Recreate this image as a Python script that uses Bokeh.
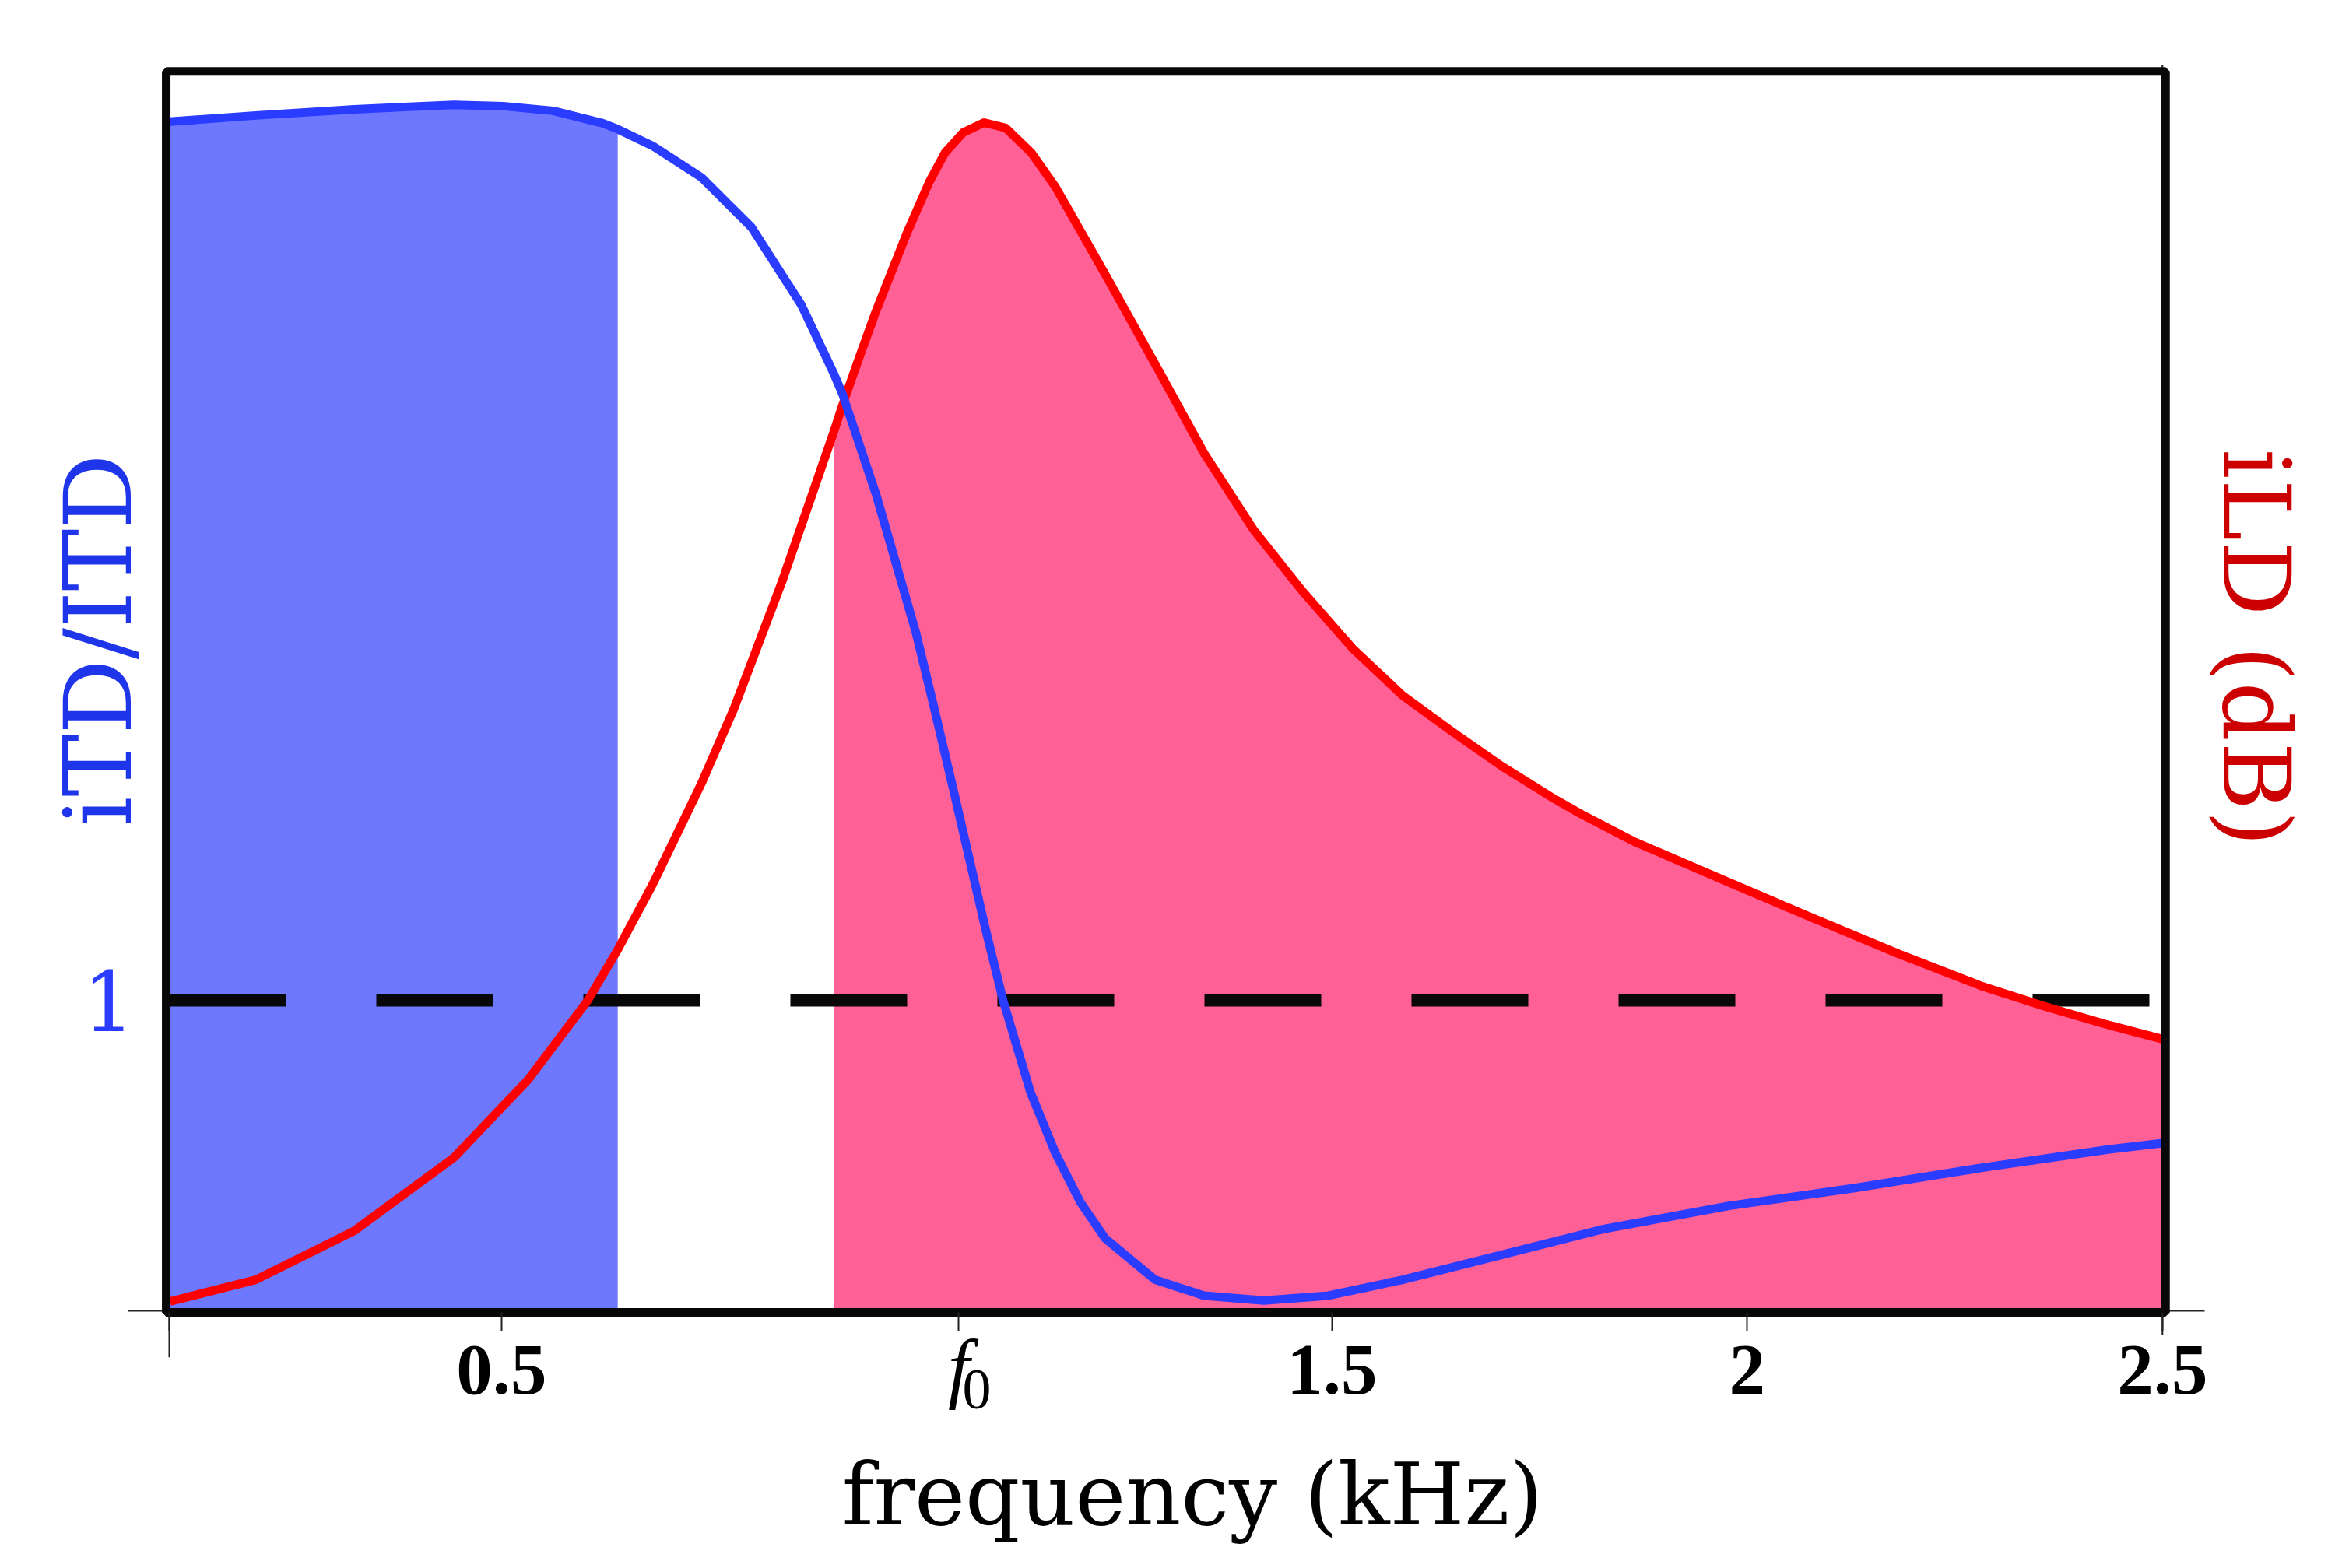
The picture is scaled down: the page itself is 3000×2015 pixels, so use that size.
import numpy as np
from bokeh.plotting import figure
from bokeh.models import Range1d, FixedTicker, Label
from bokeh.embed import file_html
from bokeh.resources import INLINE

# ---- data ----
freq_itd = [0.101, 0.204, 0.323, 0.443, 0.502, 0.562, 0.622, 0.640, 0.682, 0.741, 0.801,
            0.861, 0.900, 0.911, 0.951, 0.999, 1.019, 1.048, 1.083, 1.104, 1.137, 1.167,
            1.197, 1.227, 1.287, 1.346, 1.418, 1.496, 1.585, 1.704, 1.825, 1.978, 2.131,
            2.283, 2.436, 2.500]
itd_ratio = [3.83, 3.85, 3.87, 3.884, 3.88, 3.865, 3.825, 3.806, 3.752, 3.650, 3.49,
             3.24, 3.02, 2.95, 2.63, 2.185, 1.965, 1.634, 1.228, 1.0, 0.704, 0.508,
             0.35, 0.233, 0.10, 0.049, 0.033, 0.049, 0.10, 0.18, 0.262, 0.338, 0.396,
             0.461, 0.52, 0.54]

freq_ild = [0.101, 0.204, 0.323, 0.443, 0.532, 0.604, 0.640, 0.682, 0.741, 0.780, 0.838,
            0.900, 0.911, 0.928, 0.951, 0.988, 1.015, 1.034, 1.056, 1.081, 1.107, 1.138,
            1.167, 1.227, 1.287, 1.346, 1.406, 1.465, 1.525, 1.585, 1.645, 1.704, 1.764,
            1.800, 1.865, 1.978, 2.079, 2.182, 2.283, 2.359, 2.436, 2.500]
ild_db = [0.03, 0.10, 0.258, 0.494, 0.744, 1.0, 1.163, 1.373, 1.70, 1.94, 2.35,
          2.83, 2.92, 3.05, 3.22, 3.47, 3.635, 3.73, 3.795, 3.827, 3.81, 3.73,
          3.62, 3.338, 3.05, 2.762, 2.514, 2.316, 2.133, 1.982, 1.865, 1.755, 1.655,
          1.60, 1.51, 1.38, 1.265, 1.15, 1.045, 0.98, 0.92, 0.875]

itd_fill_end = 0.64
ild_fill_start = 0.90
reference_level = 1.0
x_start, x_end = 0.1, 2.5
f0 = 1.05
tick_values = [0.1, 0.5, f0, 1.5, 2.0, 2.5]
tick_labels = {0.1: "", 0.5: "0.5", f0: "", 1.5: "1.5", 2.0: "2", 2.5: "2.5"}

BLUE_LINE = "#2a3cff"
BLUE_FILL = "#6e78ff"
RED_LINE = "#ff0000"
PINK_FILL = "#ff6096"

# plot box (in data units) and the whole canvas mapped to data units
box_left, box_right, box_bottom, box_top = 0.0963, 2.5037, -0.005, 3.992

p = figure(width=3000, height=2015, output_backend="svg", toolbar_location=None,
           x_range=Range1d(-0.10337, 2.70825), y_range=Range1d(-0.8296, 4.2206),
           min_border=0)
p.xgrid.visible = False
p.ygrid.visible = False
p.outline_line_color = None
p.background_fill_color = "white"
p.border_fill_color = "white"

fx = np.array(freq_itd); fy = np.array(itd_ratio)
m = fx <= itd_fill_end
p.varea(x=fx[m], y1=0, y2=fy[m], fill_color=BLUE_FILL)
rx = np.array(freq_ild); ry = np.array(ild_db)
m2 = rx >= ild_fill_start
p.varea(x=rx[m2], y1=0, y2=ry[m2], fill_color=PINK_FILL)

p.line([x_start, x_end], [reference_level, reference_level], line_color="#080808",
       line_width=16, line_dash="150 116")

p.line(freq_ild, ild_db, line_color=RED_LINE, line_width=11, line_join="round")
p.line(freq_itd, itd_ratio, line_color=BLUE_LINE, line_width=11, line_join="round")

# thin axis lines that extend past the box
p.line([0.0503, 2.5508], [0, 0], line_color="#222222", line_width=2)
p.line([x_start, x_start], [0, -0.15], line_color="#222222", line_width=2)
p.line([x_end, x_end], [4.013, -0.078], line_color="#222222", line_width=2)

# plot box
p.quad(left=box_left, right=box_right, bottom=box_bottom, top=box_top,
       fill_color=None, line_color="#080808", line_width=11)

# x axis at the box bottom
xa = p.xaxis[0]
xa.fixed_location = box_bottom
xa.ticker = FixedTicker(ticks=tick_values)
xa.major_label_overrides = tick_labels
xa.major_label_text_font = "Liberation Serif"
xa.major_label_text_font_style = "bold"
xa.major_label_text_font_size = "93px"
xa.major_label_text_color = "black"
xa.major_tick_out = 24
xa.major_tick_in = 0
xa.major_tick_line_width = 2
xa.major_tick_line_color = "#222222"
xa.minor_tick_line_color = None
xa.axis_line_color = None
xa.major_label_standoff = 20

# y axis at the box left: only "1"
ya = p.yaxis[0]
ya.fixed_location = box_left
ya.ticker = FixedTicker(ticks=[reference_level])
ya.major_label_overrides = {reference_level: "1"}
ya.major_label_text_font = "DejaVu Serif"
ya.major_label_text_font_size = "106px"
ya.major_label_text_color = BLUE_LINE
ya.major_tick_out = 0
ya.major_tick_in = 0
ya.minor_tick_line_color = None
ya.axis_line_color = None
ya.major_label_standoff = 40

# titles
p.add_layout(Label(x=1.332, y=-0.592, text="frequency (kHz)", text_align="center",
                   text_baseline="alphabetic", text_font="DejaVu Serif",
                   text_font_size="110px", text_color="black"))
p.add_layout(Label(x=0.0147, y=2.16, text="iTD/ITD", angle=np.pi / 2, text_align="center",
                   text_baseline="alphabetic", text_font="DejaVu Serif",
                   text_font_size="120px", text_color="#1f35ea"))
p.add_layout(Label(x=2.613, y=2.135, text="iLD (dB)", angle=-np.pi / 2, text_align="center",
                   text_baseline="alphabetic", text_font="DejaVu Serif",
                   text_font_size="120px", text_color="#cc0000"))
# f0 tick label
p.add_layout(Label(x=1.0376, y=-0.183, text="f", text_align="left",
                   text_baseline="alphabetic", text_font="Liberation Serif",
                   text_font_style="italic", text_font_size="100px", text_color="black"))
p.add_layout(Label(x=1.055, y=-0.253, text="0", text_align="left",
                   text_baseline="alphabetic", text_font="Liberation Serif",
                   text_font_size="74px", text_color="black"))

open("out.html", "w").write(file_html(p, INLINE))
